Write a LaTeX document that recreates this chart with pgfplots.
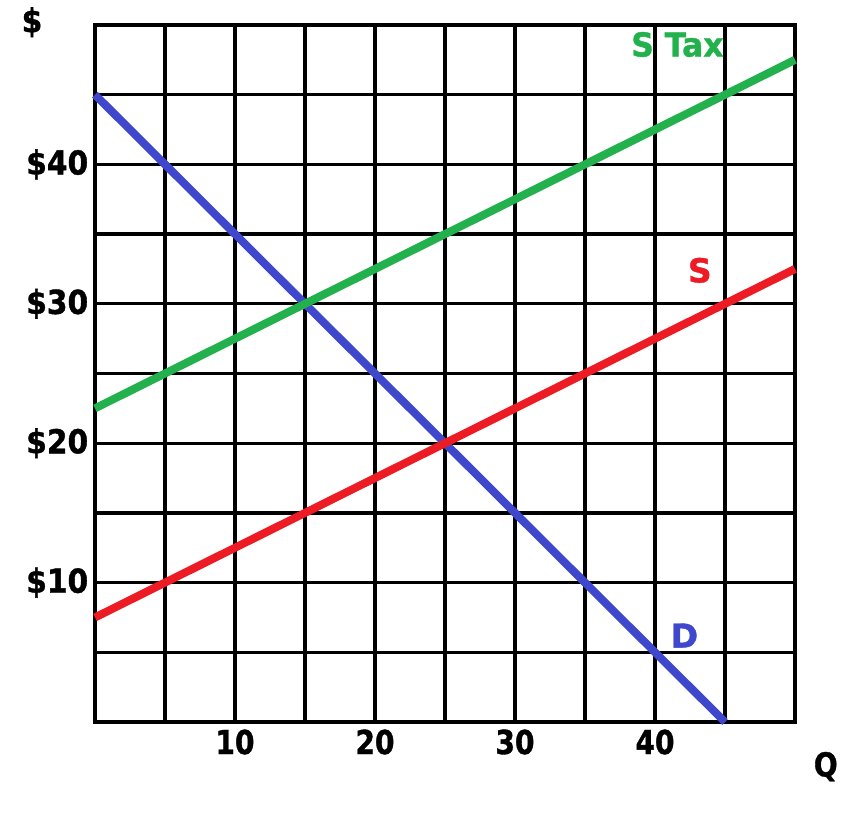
\documentclass[border=0pt]{standalone}
\usepackage{pgfplots}
\pgfplotsset{compat=1.18}
\usepackage{fontspec}
\setmainfont{DejaVu Sans}
\newfontfamily\heavy{DejaVu Sans Bold}[FakeBold=1.2]
\definecolor{dblue}{HTML}{3F48CC}
\definecolor{dred}{HTML}{ED1C24}
\definecolor{dgreen}{HTML}{22B14C}
\newcommand{\bigf}{\fontsize{33}{38}\selectfont\heavy}
\begin{document}
\begin{tikzpicture}
\useasboundingbox (-95pt,-102pt) rectangle (766pt,722pt);
\begin{axis}[
  at={(0,0)}, anchor=south west,
  scale only axis, width=700pt, height=697pt,
  xmin=0, xmax=50, ymin=0, ymax=50,
  xtick={0,5,...,50}, ytick={0,5,...,50},
  xticklabels={,,10,,20,,30,,40,,},
  yticklabels={,,\$10,,\$20,,\$30,,\$40,,},
  major tick length=0pt,
  grid=major,
  grid style={black, line width=3.3pt},
  axis line style={black, line width=3.3pt},
  xticklabel style={font=\bigf, xscale=0.85, yshift=-4pt},
  yticklabel style={font=\bigf, xscale=0.9, xshift=-4pt},
  clip=false,
]
\addplot[color=dblue, line width=8pt] coordinates {(0,45) (45,0)};
\addplot[color=dred, line width=8pt] coordinates {(0,7.5) (50,32.5)};
\addplot[color=dgreen, line width=8pt] coordinates {(0,22.5) (50,47.5)};
\node[font=\bigf, text=dgreen, xscale=0.95] at (axis cs:41.6,48.6) {S Tax};
\node[font=\bigf, text=dred] at (axis cs:43.2,32.4) {S};
\node[font=\bigf, text=dblue] at (axis cs:42.1,6.2) {D};
\node[font=\bigf, xscale=0.9] at (axis cs:-4.5,50.2) {\$};
\node[font=\bigf, xscale=0.85] at (axis cs:52.2,-3.2) {Q};
\end{axis}
\end{tikzpicture}
\end{document}
